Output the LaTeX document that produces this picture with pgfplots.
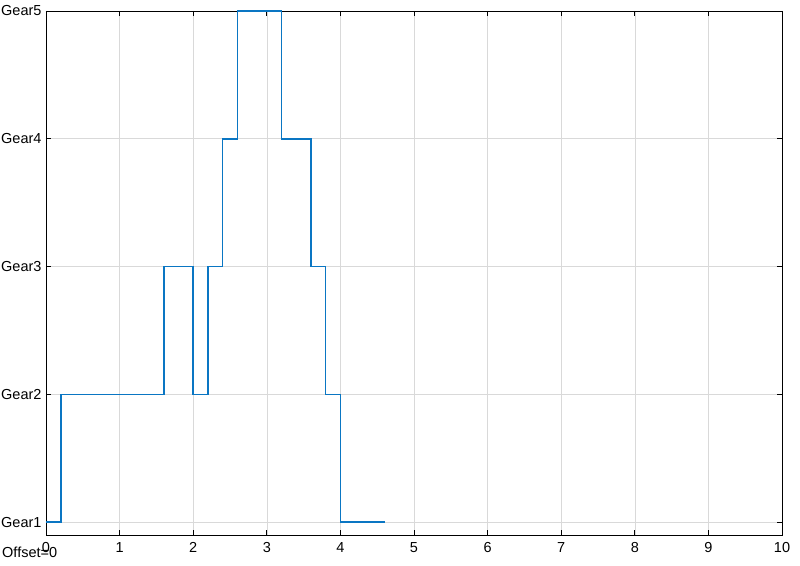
\documentclass[border=0pt]{standalone}
\usepackage{fontspec}
\setmainfont{Liberation Sans}
\usepackage{pgfplots}
\pgfplotsset{compat=1.18}
\definecolor{mblue}{RGB}{10,118,195}
\begin{document}
\begin{tikzpicture}
\begin{axis}[
  scale only axis, width=736pt, height=524pt,
  xmin=0, xmax=10, ymin=0.9, ymax=5,
  xtick={0,1,2,3,4,5,6,7,8,9,10},
  ytick={1,2,3,4,5},
  yticklabels={Gear1,Gear2,Gear3,Gear4,Gear5},
  grid=major, major grid style={black!15, line width=0.6pt},
  tick align=inside, major tick length=5pt,
  xtick pos=both, ytick pos=both,
  tick style={black, line width=0.8pt},
  axis line style={black, line width=0.8pt},
  tick label style={font=\fontsize{14.5}{16}\selectfont},
  /pgf/number format/assume math mode=true,
  xticklabel style={yshift=-4pt},
  yticklabel style={xshift=-1pt},
  clip=false,
]
\addplot[const plot, color=mblue, line width=1.6pt] coordinates {
  (0,1) (0.2,2) (1.6,3) (2.0,2) (2.2,3) (2.4,4) (2.6,5) (3.2,4) (3.6,3) (3.8,2) (4.0,1) (4.6,1)
};
\coordinate (sw) at (rel axis cs:0,0);
\coordinate (ne) at (rel axis cs:1,1);
\end{axis}
\node[anchor=north west, inner sep=0pt, font=\fontsize{14.5}{16}\selectfont] at ([xshift=-44pt,yshift=-12pt]sw) {Offset=0};
\pgfresetboundingbox
\path[use as bounding box] ([xshift=-46pt,yshift=-31pt]sw) rectangle ([xshift=18pt,yshift=11pt]ne);
\end{tikzpicture}
\end{document}
